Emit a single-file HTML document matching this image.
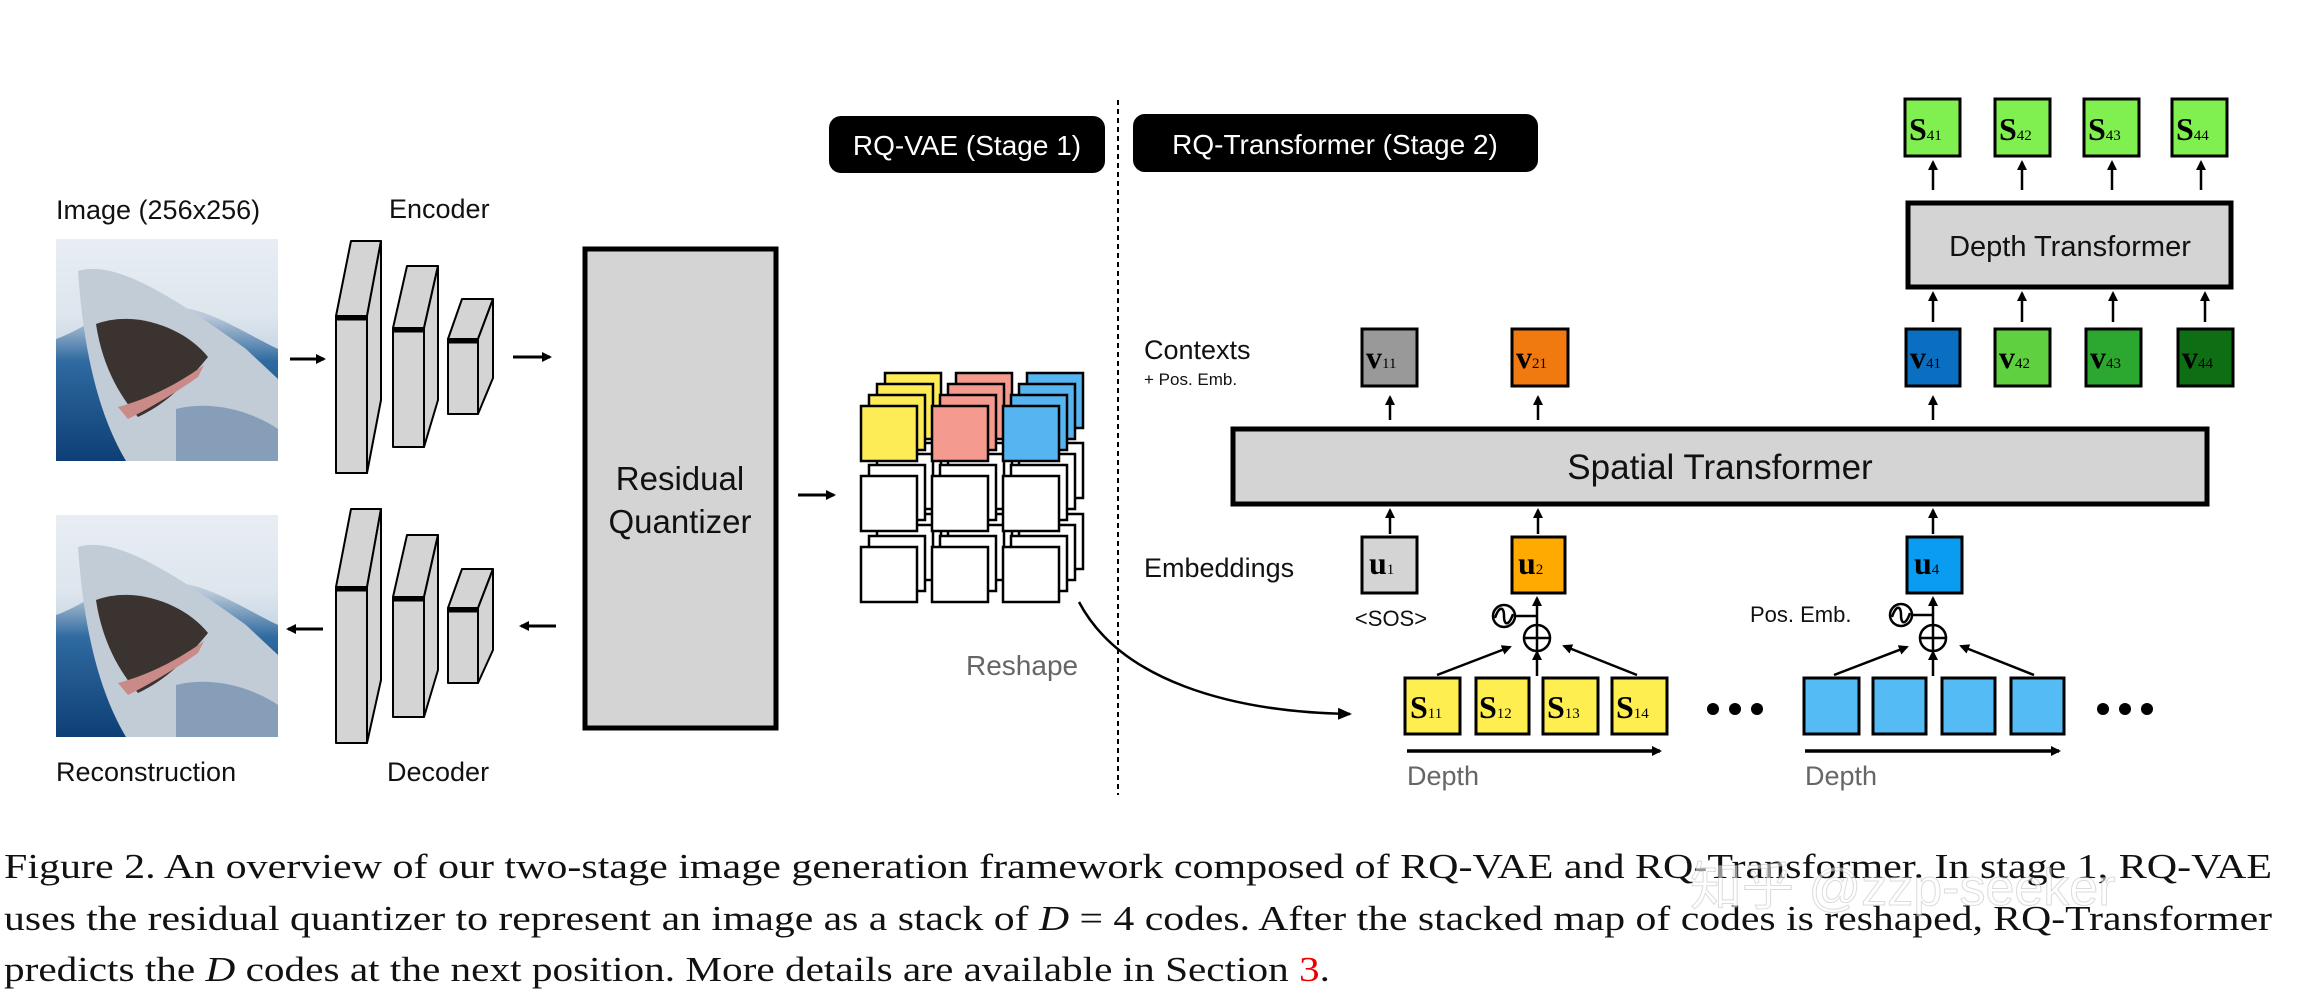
<!DOCTYPE html>
<html><head><meta charset="utf-8"><style>
html,body{margin:0;padding:0;background:#fff;}
svg{display:block;}
text{font-family:"Liberation Sans",sans-serif;}
.s text{font-family:"Liberation Serif",serif;font-weight:bold;}
.cap{font-family:"Liberation Serif",serif;font-size:35px;fill:#111;}
</style></head><body>
<svg width="2302" height="998" viewBox="0 0 2302 998" xmlns="http://www.w3.org/2000/svg">
<defs>
<marker id="ah" markerWidth="10" markerHeight="10" refX="8" refY="5" orient="auto" markerUnits="userSpaceOnUse">
<path d="M0,0 L10,5 L0,10 z" fill="#000"/></marker>
<marker id="ah2" markerWidth="14" markerHeight="14" refX="12" refY="7" orient="auto" markerUnits="userSpaceOnUse">
<path d="M0,1 L14,7 L0,13 z" fill="#000"/></marker>
<linearGradient id="sea" x1="0" y1="0" x2="0" y2="1">
<stop offset="0" stop-color="#eef2f6"/><stop offset="0.35" stop-color="#b9c8d8"/><stop offset="0.55" stop-color="#2f6aa0"/><stop offset="1" stop-color="#0d3f75"/></linearGradient>
<g id="shark">
<rect x="0" y="0" width="222" height="222" fill="url(#sea)"/>
<path d="M0,0 H222 V110 C180,90 140,60 100,70 C60,60 30,90 0,100 z" fill="#e6ecf2" opacity="0.8"/>
<path d="M22,32 C60,20 120,60 190,110 L222,140 L222,222 L70,222 C45,180 28,120 22,32 z" fill="#c2ccd6"/>
<path d="M40,85 C80,70 130,90 152,118 C130,145 110,165 82,178 C62,155 46,125 40,85 z" fill="#3a3330"/>
<path d="M62,168 C92,160 122,145 148,126 L142,138 C118,155 92,170 72,180 z" fill="#c98a88"/>
<path d="M120,170 C160,160 200,175 222,190 L222,222 L120,222 z" fill="#5d7fa3" opacity="0.6"/>
</g>
</defs>

<use href="#shark" x="56" y="239"/>
<use href="#shark" x="56" y="515"/>
<text x="56" y="219" font-size="27" fill="#111">Image (256x256)</text>
<text x="56" y="781" font-size="27" fill="#111">Reconstruction</text>
<text x="389" y="218" font-size="27" fill="#111">Encoder</text>
<text x="387" y="781" font-size="27" fill="#111">Decoder</text>

<g stroke="#000" stroke-width="2" fill="#d4d4d4" stroke-linejoin="round">
<polygon points="336,316 351,241 381,241 367,316"/>
<polygon points="367,316 381,241 381,400 367,473"/>
<rect x="336" y="316" width="31" height="157"/>
<line x1="336" y1="318" x2="367" y2="318" stroke-width="5"/>
<polygon points="393,328 407,266 438,266 424,328"/>
<polygon points="424,328 438,266 438,400 424,447"/>
<rect x="393" y="328" width="31" height="119"/>
<line x1="393" y1="330" x2="424" y2="330" stroke-width="5"/>
<polygon points="448,339 462,299 493,299 478,339"/>
<polygon points="478,339 493,299 493,378 478,414"/>
<rect x="448" y="339" width="30" height="75"/>
<line x1="448" y1="341" x2="478" y2="341" stroke-width="5"/>
<polygon points="336,587 351,509 381,509 367,587"/>
<polygon points="367,587 381,509 381,680 367,743"/>
<rect x="336" y="587" width="31" height="156"/>
<line x1="336" y1="589" x2="367" y2="589" stroke-width="5"/>
<polygon points="393,597 407,535 438,535 424,597"/>
<polygon points="424,597 438,535 438,670 424,717"/>
<rect x="393" y="597" width="31" height="120"/>
<line x1="393" y1="599" x2="424" y2="599" stroke-width="5"/>
<polygon points="448,608 462,569 493,569 478,608"/>
<polygon points="478,608 493,569 493,650 478,683"/>
<rect x="448" y="608" width="30" height="75"/>
<line x1="448" y1="610" x2="478" y2="610" stroke-width="5"/>
</g>

<g stroke="#000" stroke-width="3">
<line x1="290" y1="359" x2="324" y2="359" marker-end="url(#ah)"/>
<line x1="513" y1="357" x2="550" y2="357" marker-end="url(#ah)"/>
<line x1="323" y1="629" x2="288" y2="629" marker-end="url(#ah)"/>
<line x1="556" y1="626" x2="521" y2="626" marker-end="url(#ah)"/>
<line x1="798" y1="495" x2="834" y2="495" marker-end="url(#ah)"/>
</g>

<rect x="585" y="249" width="191" height="479" fill="#d4d4d4" stroke="#000" stroke-width="5"/>
<text x="680" y="490" font-size="33" text-anchor="middle" fill="#111">Residual</text>
<text x="680" y="533" font-size="33" text-anchor="middle" fill="#111">Quantizer</text>

<rect x="829" y="116" width="276" height="57" rx="12" fill="#000"/>
<text x="967" y="155" font-size="28" text-anchor="middle" fill="#fff">RQ-VAE (Stage 1)</text>
<rect x="1133" y="114" width="405" height="58" rx="12" fill="#000"/>
<text x="1335" y="154" font-size="28" text-anchor="middle" fill="#fff">RQ-Transformer (Stage 2)</text>
<line x1="1118" y1="100" x2="1118" y2="795" stroke="#000" stroke-width="2" stroke-dasharray="5,4"/>

<g stroke="#000" stroke-width="2.5">
<g fill="#fff">
<rect x="885" y="514" width="56" height="55"/><rect x="877" y="525" width="56" height="55"/><rect x="869" y="536" width="56" height="55"/><rect x="861" y="547" width="56" height="55"/>
<rect x="956" y="514" width="56" height="55"/><rect x="948" y="525" width="56" height="55"/><rect x="940" y="536" width="56" height="55"/><rect x="932" y="547" width="56" height="55"/>
<rect x="1027" y="514" width="56" height="55"/><rect x="1019" y="525" width="56" height="55"/><rect x="1011" y="536" width="56" height="55"/><rect x="1003" y="547" width="56" height="55"/>
</g>
<g fill="#fff">
<rect x="885" y="443" width="56" height="55"/><rect x="877" y="454" width="56" height="55"/><rect x="869" y="465" width="56" height="55"/><rect x="861" y="476" width="56" height="55"/>
<rect x="956" y="443" width="56" height="55"/><rect x="948" y="454" width="56" height="55"/><rect x="940" y="465" width="56" height="55"/><rect x="932" y="476" width="56" height="55"/>
<rect x="1027" y="443" width="56" height="55"/><rect x="1019" y="454" width="56" height="55"/><rect x="1011" y="465" width="56" height="55"/><rect x="1003" y="476" width="56" height="55"/>
</g>
<g fill="#fdec55"><rect x="885" y="373" width="56" height="55"/><rect x="877" y="384" width="56" height="55"/><rect x="869" y="395" width="56" height="55"/><rect x="861" y="406" width="56" height="55"/></g>
<g fill="#f59a8f"><rect x="956" y="373" width="56" height="55"/><rect x="948" y="384" width="56" height="55"/><rect x="940" y="395" width="56" height="55"/><rect x="932" y="406" width="56" height="55"/></g>
<g fill="#56b4f0"><rect x="1027" y="373" width="56" height="55"/><rect x="1019" y="384" width="56" height="55"/><rect x="1011" y="395" width="56" height="55"/><rect x="1003" y="406" width="56" height="55"/></g>
</g>
<text x="966" y="675" font-size="28" fill="#666">Reshape</text>
<path d="M1079,602 C1120,680 1230,712 1350,714" fill="none" stroke="#000" stroke-width="2.5" marker-end="url(#ah2)"/>

<text x="1144" y="359" font-size="27" fill="#111">Contexts</text>
<text x="1144" y="385" font-size="17" fill="#111">+ Pos. Emb.</text>
<text x="1144" y="577" font-size="27" fill="#111">Embeddings</text>
<text x="1391" y="626" font-size="22" text-anchor="middle" fill="#111">&lt;SOS&gt;</text>
<text x="1750" y="622" font-size="22" fill="#111">Pos. Emb.</text>

<rect x="1233" y="429" width="974" height="75" fill="#d4d4d4" stroke="#000" stroke-width="5"/>
<text x="1720" y="479" font-size="35" text-anchor="middle" fill="#111">Spatial Transformer</text>
<rect x="1908" y="203" width="323" height="84" fill="#d4d4d4" stroke="#000" stroke-width="5"/>
<text x="2070" y="256" font-size="29" text-anchor="middle" fill="#111">Depth Transformer</text>

<g stroke="#000" stroke-width="3">
<rect x="1905" y="99" width="55" height="57" fill="#80f050"/>
<rect x="1995" y="99" width="55" height="57" fill="#80f050"/>
<rect x="2084" y="99" width="55" height="57" fill="#80f050"/>
<rect x="2172" y="99" width="55" height="57" fill="#80f050"/>
<rect x="1362" y="329" width="55" height="57" fill="#999"/>
<rect x="1512" y="329" width="56" height="57" fill="#f07a10"/>
<rect x="1906" y="329" width="54" height="57" fill="#0a6fc0"/>
<rect x="1995" y="329" width="55" height="57" fill="#5fd040"/>
<rect x="2086" y="329" width="55" height="57" fill="#2ca830"/>
<rect x="2178" y="329" width="55" height="57" fill="#0e6e14"/>
<rect x="1362" y="537" width="55" height="56" fill="#d4d4d4"/>
<rect x="1512" y="537" width="53" height="56" fill="#ffaa00"/>
<rect x="1907" y="537" width="55" height="56" fill="#0a9cf0"/>
<rect x="1405" y="678" width="55" height="56" fill="#ffee50"/>
<rect x="1476" y="678" width="53" height="56" fill="#ffee50"/>
<rect x="1543" y="678" width="55" height="56" fill="#ffee50"/>
<rect x="1612" y="678" width="55" height="56" fill="#ffee50"/>
<rect x="1804" y="678" width="55" height="56" fill="#55bbf5"/>
<rect x="1873" y="678" width="53" height="56" fill="#55bbf5"/>
<rect x="1942" y="678" width="53" height="56" fill="#55bbf5"/>
<rect x="2011" y="678" width="53" height="56" fill="#55bbf5"/>
</g>

<g stroke="#000" stroke-width="2.5">
<line x1="1933" y1="190" x2="1933" y2="162" marker-end="url(#ah)"/>
<line x1="2022" y1="190" x2="2022" y2="162" marker-end="url(#ah)"/>
<line x1="2112" y1="190" x2="2112" y2="162" marker-end="url(#ah)"/>
<line x1="2201" y1="190" x2="2201" y2="162" marker-end="url(#ah)"/>
<line x1="1933" y1="322" x2="1933" y2="293" marker-end="url(#ah)"/>
<line x1="2022" y1="322" x2="2022" y2="293" marker-end="url(#ah)"/>
<line x1="2113" y1="322" x2="2113" y2="293" marker-end="url(#ah)"/>
<line x1="2205" y1="322" x2="2205" y2="293" marker-end="url(#ah)"/>
<line x1="1390" y1="420" x2="1390" y2="397" marker-end="url(#ah)"/>
<line x1="1538" y1="420" x2="1538" y2="397" marker-end="url(#ah)"/>
<line x1="1933" y1="420" x2="1933" y2="397" marker-end="url(#ah)"/>
<line x1="1390" y1="534" x2="1390" y2="510" marker-end="url(#ah)"/>
<line x1="1538" y1="534" x2="1538" y2="510" marker-end="url(#ah)"/>
<line x1="1933" y1="534" x2="1933" y2="510" marker-end="url(#ah)"/>
<line x1="1537" y1="626" x2="1537" y2="598" marker-end="url(#ah)"/>
<line x1="1515" y1="616" x2="1537" y2="616"/>
<line x1="1537" y1="676" x2="1537" y2="652" marker-end="url(#ah)"/>
<line x1="1437" y1="675" x2="1510" y2="647" marker-end="url(#ah)"/>
<line x1="1637" y1="675" x2="1564" y2="646" marker-end="url(#ah)"/>
<line x1="1933" y1="626" x2="1933" y2="598" marker-end="url(#ah)"/>
<line x1="1912" y1="615" x2="1933" y2="615"/>
<line x1="1933" y1="676" x2="1933" y2="652" marker-end="url(#ah)"/>
<line x1="1834" y1="675" x2="1907" y2="647" marker-end="url(#ah)"/>
<line x1="2034" y1="675" x2="1961" y2="646" marker-end="url(#ah)"/>
</g>
<g stroke="#000" stroke-width="2.5" fill="#fff">
<circle cx="1504" cy="616" r="11"/><path d="M1495,618 C1499,606 1504,606 1504,616 C1504,626 1509,626 1513,614" fill="none"/>
<circle cx="1537" cy="638" r="13"/><path d="M1524,638 H1550 M1537,625 V651"/>
<circle cx="1901" cy="615" r="11"/><path d="M1892,617 C1896,605 1901,605 1901,615 C1901,625 1906,625 1910,613" fill="none"/>
<circle cx="1933" cy="638" r="13"/><path d="M1920,638 H1946 M1933,625 V651"/>
</g>

<g stroke="#000" stroke-width="3.5">
<line x1="1407" y1="751" x2="1660" y2="751" marker-end="url(#ah)"/>
<line x1="1805" y1="751" x2="2059" y2="751" marker-end="url(#ah)"/>
</g>
<text x="1407" y="785" font-size="27" fill="#666">Depth</text>
<text x="1805" y="785" font-size="27" fill="#666">Depth</text>
<g fill="#000">
<circle cx="1713" cy="709" r="6"/><circle cx="1735" cy="709" r="6"/><circle cx="1757" cy="709" r="6"/>
<circle cx="2103" cy="709" r="6"/><circle cx="2125" cy="709" r="6"/><circle cx="2147" cy="709" r="6"/>
</g>

<g class="s" fill="#000">
<text x="1909" y="140" font-size="32">S<tspan font-size="15" font-weight="normal">41</tspan></text>
<text x="1999" y="140" font-size="32">S<tspan font-size="15" font-weight="normal">42</tspan></text>
<text x="2088" y="140" font-size="32">S<tspan font-size="15" font-weight="normal">43</tspan></text>
<text x="2176" y="140" font-size="32">S<tspan font-size="15" font-weight="normal">44</tspan></text>
<text x="1366" y="368" font-size="32">v<tspan font-size="15" font-weight="normal">11</tspan></text>
<text x="1516" y="368" font-size="32">v<tspan font-size="15" font-weight="normal">21</tspan></text>
<text x="1910" y="368" font-size="32">v<tspan font-size="15" font-weight="normal">41</tspan></text>
<text x="1999" y="368" font-size="32">v<tspan font-size="15" font-weight="normal">42</tspan></text>
<text x="2090" y="368" font-size="32">v<tspan font-size="15" font-weight="normal">43</tspan></text>
<text x="2182" y="368" font-size="32">v<tspan font-size="15" font-weight="normal">44</tspan></text>
<text x="1369" y="574" font-size="32">u<tspan font-size="15" font-weight="normal">1</tspan></text>
<text x="1518" y="574" font-size="32">u<tspan font-size="15" font-weight="normal">2</tspan></text>
<text x="1914" y="574" font-size="32">u<tspan font-size="15" font-weight="normal">4</tspan></text>
<text x="1410" y="718" font-size="32">S<tspan font-size="15" font-weight="normal">11</tspan></text>
<text x="1479" y="718" font-size="32">S<tspan font-size="15" font-weight="normal">12</tspan></text>
<text x="1547" y="718" font-size="32">S<tspan font-size="15" font-weight="normal">13</tspan></text>
<text x="1616" y="718" font-size="32">S<tspan font-size="15" font-weight="normal">14</tspan></text>
</g>

<text class="cap" x="4" y="878" textLength="2268" lengthAdjust="spacingAndGlyphs">Figure 2. An overview of our two-stage image generation framework composed of RQ-VAE and RQ-Transformer. In stage 1, RQ-VAE</text>
<text class="cap" x="4" y="930" textLength="2268" lengthAdjust="spacingAndGlyphs">uses the residual quantizer to represent an image as a stack of <tspan font-style="italic">D</tspan> = 4 codes. After the stacked map of codes is reshaped, RQ-Transformer</text>
<text class="cap" x="4" y="981" textLength="1326" lengthAdjust="spacingAndGlyphs">predicts the <tspan font-style="italic">D</tspan> codes at the next position. More details are available in Section <tspan fill="#e00">3</tspan>.</text>
<text x="1690" y="905" font-size="52" fill="#fff" fill-opacity="0.55" stroke="#999" stroke-opacity="0.35" stroke-width="1" style="font-family:'Liberation Sans','Noto Sans CJK SC',sans-serif">知乎 @zzp-seeker</text>
</svg>
</body></html>
